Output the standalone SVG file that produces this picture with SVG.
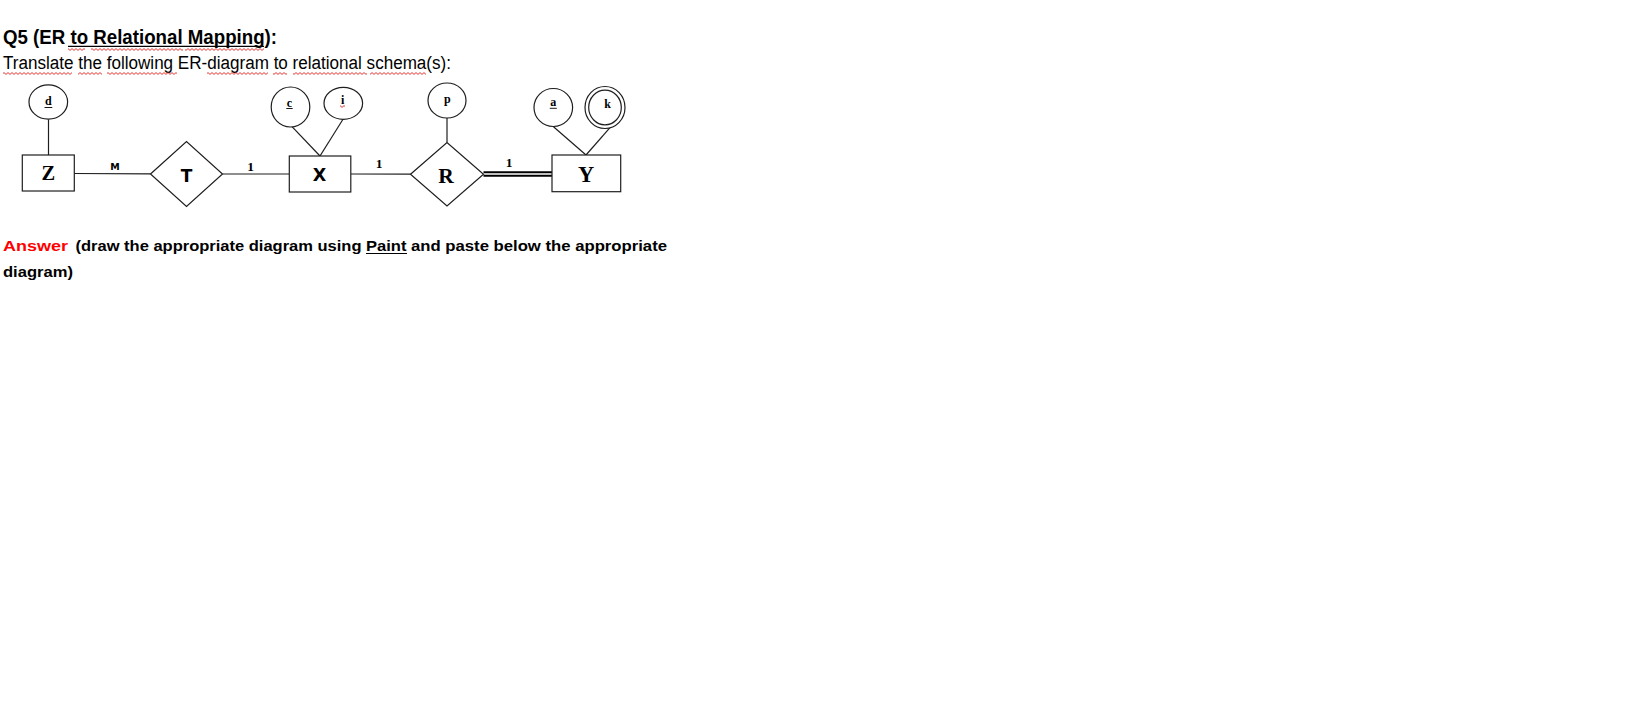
<svg xmlns="http://www.w3.org/2000/svg" width="1644" height="715" viewBox="0 0 1644 715">
<defs>
<pattern id="wave" x="0" y="0" width="4" height="3" patternUnits="userSpaceOnUse"><path d="M0 0.6 L2 2.4 L4 0.6" fill="none" stroke="#e0201c" stroke-width="0.9"/></pattern>
</defs>
<style>
.doc{font-family:"Liberation Sans","Open Sans",sans-serif;fill:#000}
.shape{fill:#fff;stroke:#1e1e1e;stroke-width:1.2}
.ln{stroke:#1e1e1e;stroke-width:1.2;fill:none}
.ser{font-family:"Liberation Serif","DejaVu Serif",serif;font-weight:bold;text-anchor:middle;fill:#000}
.san{font-family:"DejaVu Sans","Liberation Sans",sans-serif;font-weight:bold;text-anchor:middle;fill:#000}
.att{font-size:12px}
.card{font-size:13.5px}
.sq{fill:url(#wave)}
</style>
<rect width="1644" height="715" fill="#fff"/>

<g id="heading">
<text class="doc" x="3" y="44" font-size="19.5" font-weight="bold" textLength="274" lengthAdjust="spacingAndGlyphs">Q5 (ER to Relational Mapping):</text>
<line x1="68" y1="46.3" x2="264" y2="46.3" stroke="#000" stroke-width="1.3"/>
<rect class="sq" x="68" y="48" width="17" height="3"/>
<rect class="sq" x="91" y="48" width="92" height="3"/>
<rect class="sq" x="185" y="48" width="79" height="3"/>
<text class="doc" x="3" y="69" font-size="18" textLength="448" lengthAdjust="spacingAndGlyphs">Translate the following ER-diagram to relational schema(s):</text>
<rect class="sq" x="3" y="72" width="69" height="3"/>
<rect class="sq" x="78" y="72" width="24" height="3"/>
<rect class="sq" x="107" y="72" width="70" height="3"/>
<rect class="sq" x="207" y="72" width="61" height="3"/>
<rect class="sq" x="273" y="72" width="14" height="3"/>
<rect class="sq" x="293" y="72" width="74" height="3"/>
<rect class="sq" x="370" y="72" width="56" height="3"/>
</g>

<g id="connectors">
<line class="ln" x1="48.5" y1="119.3" x2="48.5" y2="155"/>
<line class="ln" x1="74.3" y1="173.5" x2="150.5" y2="173.8"/>
<line class="ln" x1="222.5" y1="174" x2="289" y2="174"/>
<line class="ln" x1="292" y1="126.7" x2="320" y2="156"/>
<line class="ln" x1="343" y1="119.3" x2="320" y2="156"/>
<line class="ln" x1="351" y1="174" x2="410.5" y2="174.2"/>
<line class="ln" x1="447" y1="118" x2="447" y2="142.5"/>
<line x1="483.5" y1="172.3" x2="552" y2="172.3" stroke="#000" stroke-width="2.1"/>
<line x1="483.5" y1="175.7" x2="552" y2="175.7" stroke="#000" stroke-width="2.1"/>
<line class="ln" x1="553.5" y1="126.7" x2="586" y2="155"/>
<line class="ln" x1="610" y1="127.7" x2="586" y2="155"/>
<text class="san" x="115" y="169.5" font-size="9.5">M</text>
<text class="ser card" x="250.7" y="171">1</text>
<text class="ser card" x="379" y="168.3">1</text>
<text class="ser card" x="509" y="166.7">1</text>
</g>

<g id="Z">
<rect class="shape" x="22.3" y="155" width="52" height="36"/>
<text class="ser" x="48.3" y="180.2" font-size="20.5">Z</text>
</g>
<g id="d">
<ellipse class="shape" cx="48.3" cy="102" rx="19.3" ry="17.2"/>
<text class="ser att" x="48.3" y="105.3">d</text>
<line x1="44.5" y1="107.5" x2="52.3" y2="107.5" stroke="#000" stroke-width="0.9"/>
</g>
<g id="T">
<polygon class="shape" points="150.5,174 186.5,141.5 222.5,174 186.5,206.5"/>
<text class="san" x="186.5" y="181.6" font-size="17">T</text>
</g>
<g id="X">
<rect class="shape" x="289.3" y="156" width="61.5" height="36"/>
<text class="san" x="319.5" y="181" font-size="17.5">X</text>
</g>
<g id="c">
<ellipse class="shape" cx="290.5" cy="107" rx="19.3" ry="20"/>
<text class="ser att" x="289.5" y="106.5">c</text>
<line x1="286.3" y1="108.5" x2="292.7" y2="108.5" stroke="#000" stroke-width="0.9"/>
</g>
<g id="i">
<ellipse class="shape" cx="343.3" cy="103.3" rx="19.3" ry="16"/>
<text class="ser att" x="342.7" y="104.3">i</text>
<rect class="sq" x="340" y="105" width="5" height="3"/>
</g>
<g id="R">
<polygon class="shape" points="410.5,174.2 447,142.5 483.5,174.2 447,206"/>
<text class="ser" x="446" y="183.3" font-size="21.5">R</text>
</g>
<g id="p">
<ellipse class="shape" cx="447" cy="100.5" rx="19" ry="17.5"/>
<text class="ser att" x="447.3" y="102.5">p</text>
</g>
<g id="Y">
<rect class="shape" x="552" y="155" width="68.7" height="36.7"/>
<text class="ser" x="586" y="181.7" font-size="22.5">Y</text>
</g>
<g id="a">
<ellipse class="shape" cx="553.3" cy="107.5" rx="19.3" ry="19"/>
<text class="ser att" x="553.3" y="105.7">a</text>
<line x1="549.8" y1="108.3" x2="556.8" y2="108.3" stroke="#000" stroke-width="0.9"/>
</g>
<g id="k">
<ellipse class="shape" cx="605" cy="107.5" rx="20" ry="21"/>
<ellipse class="shape" cx="605" cy="107.5" rx="16.3" ry="17.3"/>
<text class="ser att" x="607.5" y="107.7">k</text>
</g>

<g id="answer">
<text class="doc" x="3" y="251" font-size="15.5" font-weight="bold" fill="#ff0000" style="fill:#ff0000" textLength="65" lengthAdjust="spacingAndGlyphs">Answer</text>
<text class="doc" x="75.5" y="251" font-size="15.5" font-weight="bold" textLength="286" lengthAdjust="spacingAndGlyphs">(draw the appropriate diagram using</text>
<text class="doc" x="366" y="251" font-size="15.5" font-weight="bold" textLength="40.5" lengthAdjust="spacingAndGlyphs">Paint</text>
<line x1="366" y1="253.5" x2="407" y2="253.5" stroke="#000" stroke-width="1.2"/>
<text class="doc" x="411" y="251" font-size="15.5" font-weight="bold" textLength="256" lengthAdjust="spacingAndGlyphs">and paste below the appropriate</text>
<text class="doc" x="3" y="277" font-size="15.5" font-weight="bold" textLength="70" lengthAdjust="spacingAndGlyphs">diagram)</text>
</g>
</svg>
